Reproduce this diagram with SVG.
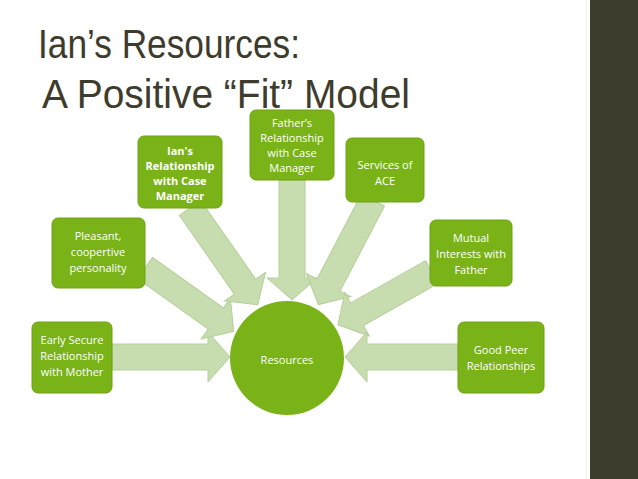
<svg xmlns="http://www.w3.org/2000/svg" width="638" height="479" viewBox="0 0 638 479">
<style>
.t{font-family:"Liberation Sans",sans-serif;fill:#3e3c2c}
.b{fill:#7ab317;stroke:#6fa114;stroke-width:1}
.l{font-family:"Open Sans","Liberation Sans",sans-serif;font-size:11px;fill:#fff;text-anchor:middle}
.a{fill:#c7ddb0;stroke:#b4cf98;stroke-width:1}
</style>
<rect width="638" height="479" fill="#fff"/>
<rect x="590" y="0" width="48" height="479" fill="#3e3c2c"/>
<line x1="586" y1="0" x2="586" y2="479" stroke="#f0f0f0" stroke-width="1"/>
<text class="t" x="38" y="58" font-size="40" textLength="262" lengthAdjust="spacingAndGlyphs">Ian’s Resources:</text>
<text class="t" x="42" y="108" font-size="40" textLength="368" lengthAdjust="spacingAndGlyphs">A Positive  “Fit” Model</text>
<g id="connectors">
<path class="a" transform="translate(112,357)" d="M0,-13 L96,-13 L96,-25 L118,0 L96,25 L96,13 L0,13 Z"/>
<path class="a" transform="translate(145,268) rotate(35.5)" d="M0,-13 L87,-13 L87,-25 L109,0 L87,25 L87,13 L0,13 Z"/>
<path class="a" transform="translate(190,208) rotate(55)" d="M0,-13 L96,-13 L96,-25 L118,0 L96,25 L96,13 L0,13 Z"/>
<path class="a" transform="translate(292,180) rotate(90)" d="M0,-13 L98,-13 L98,-25 L120,0 L98,25 L98,13 L0,13 Z"/>
<path class="a" transform="translate(373,200) rotate(117.6)" d="M0,-13 L96,-13 L96,-25 L118,0 L96,25 L96,13 L0,13 Z"/>
<path class="a" transform="translate(432,272) rotate(150.6)" d="M0,-13 L86,-13 L86,-25 L108,0 L86,25 L86,13 L0,13 Z"/>
<path class="a" transform="translate(458,357) rotate(180)" d="M0,-13 L91,-13 L91,-25 L113,0 L91,25 L91,13 L0,13 Z"/>
</g>
<g id="resources"><circle cx="287" cy="358" r="57" fill="#7ab317"/><text class="l" x="287" y="364" font-size="14">Resources</text></g>
<g id="early"><rect class="b" x="32" y="322" width="80" height="71" rx="6"/><text class="l"><tspan x="72" y="344">Early Secure</tspan><tspan x="72" y="360">Relationship</tspan><tspan x="72" y="376">with Mother</tspan></text></g>
<g id="pleasant"><rect class="b" x="52" y="218" width="93" height="70" rx="6"/><text class="l"><tspan x="98" y="240">Pleasant,</tspan><tspan x="98" y="256">coopertive</tspan><tspan x="98" y="272">personality</tspan></text></g>
<g id="ians"><rect class="b" x="138" y="136" width="84" height="72" rx="6"/><text class="l" font-weight="bold" font-size="10.5"><tspan x="180" y="155">Ian's</tspan><tspan x="180" y="170">Relationship</tspan><tspan x="180" y="185">with Case</tspan><tspan x="180" y="200">Manager</tspan></text></g>
<g id="father"><rect class="b" x="250" y="110" width="84" height="70" rx="6"/><text class="l"><tspan x="292" y="127">Father’s</tspan><tspan x="292" y="142">Relationship</tspan><tspan x="292" y="157">with Case</tspan><tspan x="292" y="172">Manager</tspan></text></g>
<g id="ace"><rect class="b" x="346" y="138" width="78" height="64" rx="6"/><text class="l"><tspan x="385" y="169">Services of</tspan><tspan x="385" y="185">ACE</tspan></text></g>
<g id="mutual"><rect class="b" x="430" y="220" width="82" height="66" rx="6"/><text class="l"><tspan x="471" y="242">Mutual</tspan><tspan x="471" y="258">Interests with</tspan><tspan x="471" y="274">Father</tspan></text></g>
<g id="peer"><rect class="b" x="458" y="322" width="86" height="71" rx="6"/><text class="l"><tspan x="501" y="354">Good Peer</tspan><tspan x="501" y="370">Relationships</tspan></text></g>
</svg>
